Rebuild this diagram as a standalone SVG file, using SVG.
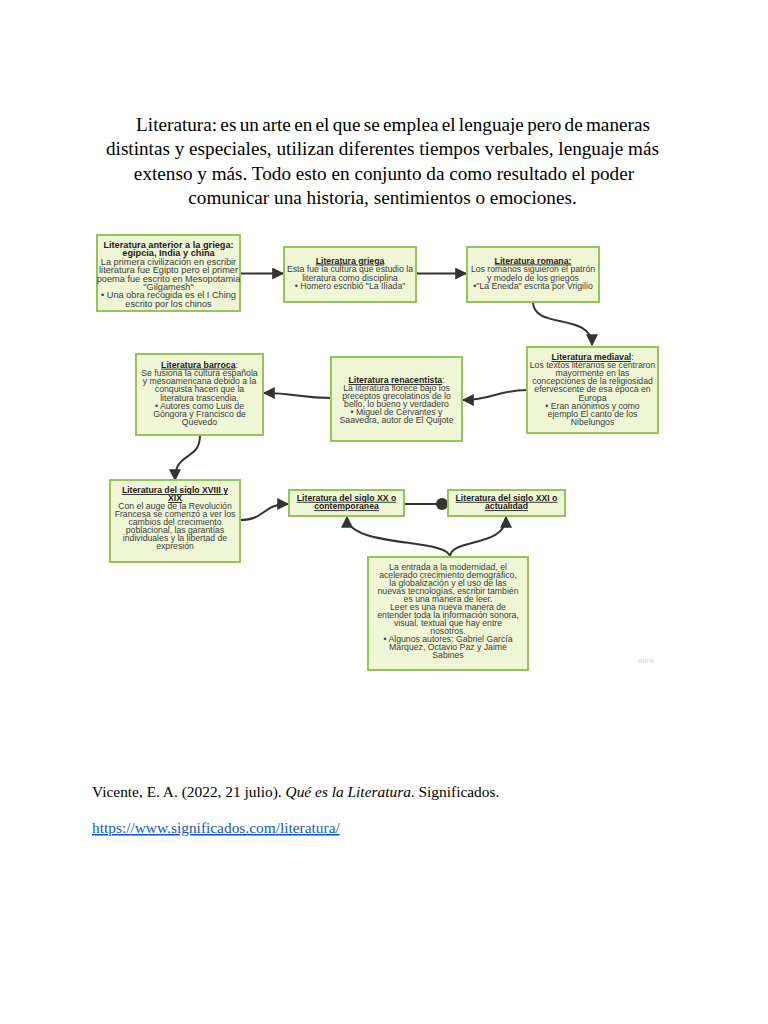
<svg xmlns="http://www.w3.org/2000/svg" width="768" height="1024" viewBox="0 0 768 1024">
<style>
.bg{fill:#ffffff}
.box{fill:#eff6d5;stroke:#93c55c;stroke-width:2}
.t{font-family:"Liberation Sans",Arial,sans-serif;font-size:8.7px;fill:#3a3a3a;text-anchor:middle}
.big .t{font-size:9.2px}
.h{font-weight:bold;fill:#1a1a1a}
.u{text-decoration:underline}
.title{font-family:"Liberation Serif","Times New Roman",serif;font-size:19.2px;fill:#000;text-anchor:middle}
.cite{font-family:"Liberation Serif","Times New Roman",serif;font-size:15.4px;fill:#000}
.link{fill:#1155cc;text-decoration:underline}
.c{fill:none;stroke:#333;stroke-width:2}
</style>
<defs>
<marker id="arr" viewBox="0 0 10 10" refX="9" refY="5" markerWidth="13" markerHeight="12" markerUnits="userSpaceOnUse" orient="auto">
<path d="M0,0 L10,5 L0,10 z" fill="#333"/>
</marker>
</defs>
<rect class="bg" x="0" y="0" width="768" height="1024"/>

<g id="heading">
<text class="title" x="393" y="130.5" word-spacing="-1.5">Literatura: es un arte en el que se emplea el lenguaje pero de maneras</text>
<text class="title" x="382.5" y="155">distintas y especiales, utilizan diferentes tiempos verbales, lenguaje más</text>
<text class="title" x="384" y="179.5">extenso y más. Todo esto en conjunto da como resultado el poder</text>
<text class="title" x="382.5" y="204">comunicar una historia, sentimientos o emociones.</text>
</g>

<g id="connectors">
<path class="c" d="M241,273.5 L283,273.5" marker-end="url(#arr)"/>
<path class="c" d="M417,273.5 L466,273.5" marker-end="url(#arr)"/>
<path class="c" d="M533,302 C533,330 592,312 592,345" marker-end="url(#arr)"/>
<path class="c" d="M527,390 C498,390 492,400 463,400" marker-end="url(#arr)"/>
<path class="c" d="M331,398 C300,398 295,393 264,393" marker-end="url(#arr)"/>
<path class="c" d="M200,435 C200,462 175,450 175,480" marker-end="url(#arr)"/>
<path class="c" d="M240,520 C266,520 262,504 288,504" marker-end="url(#arr)"/>
<path class="c" d="M404,504 L442,504"/>
<circle cx="442" cy="504" r="6" fill="#333"/>
<path class="c" d="M450,557 C450,538 347,548 347,517" marker-end="url(#arr)"/>
<path class="c" d="M450,557 C450,538 506,548 506,517" marker-end="url(#arr)"/>
</g>

<g id="n-anterior" class="big">
<rect class="box" x="97" y="235" width="143" height="76"/>
<text class="t h" x="168.5" y="248">Literatura anterior a la griega:</text>
<text class="t h" x="168.5" y="256.4">egipcia, India y china</text>
<text class="t" x="168.5" y="264.8">La primera civilización en escribir</text>
<text class="t" x="168.5" y="273.2">literatura fue Egipto pero el primer</text>
<text class="t" x="168.5" y="281.6">poema fue escrito en Mesopotamia</text>
<text class="t" x="168.5" y="290">"Gilgamesh"</text>
<text class="t" x="168.5" y="298.4">• Una obra recogida es el I Ching</text>
<text class="t" x="168.5" y="306.8">escrito por los chinos</text>
</g>

<g id="n-griega">
<rect class="box" x="284" y="247" width="132" height="55"/>
<text class="t h u" x="350" y="263.5">Literatura griega</text>
<text class="t" x="350" y="272">Esta fue la cultura que estudio la</text>
<text class="t" x="350" y="280.5">literatura como disciplina</text>
<text class="t" x="350" y="289">• Homero escribió "La Ilíada"</text>
</g>

<g id="n-romana">
<rect class="box" x="467" y="247" width="132" height="55"/>
<text class="t h u" x="533" y="263.5">Literatura romana:</text>
<text class="t" x="533" y="272">Los romanos siguieron el patrón</text>
<text class="t" x="533" y="280.5">y modelo de los griegos</text>
<text class="t" x="533" y="289">•"La Eneida" escrita por Vrigilio</text>
</g>

<g id="n-medieval">
<rect class="box" x="527" y="347" width="131" height="86"/>
<text class="t" x="592.5" y="360"><tspan class="h u">Literatura mediaval</tspan>:</text>
<text class="t" x="592.5" y="368.1">Los textos literarios se centraron</text>
<text class="t" x="592.5" y="376.2">mayormente en las</text>
<text class="t" x="592.5" y="384.3">concepciones de la religiosidad</text>
<text class="t" x="592.5" y="392.4">efervescente de esa época en</text>
<text class="t" x="592.5" y="400.5">Europa</text>
<text class="t" x="592.5" y="408.6">• Eran anónimos y como</text>
<text class="t" x="592.5" y="416.7">ejemplo El canto de los</text>
<text class="t" x="592.5" y="424.8">Nibelungos</text>
</g>

<g id="n-renacentista">
<rect class="box" x="331" y="357" width="131" height="84"/>
<text class="t" x="396.5" y="383"><tspan class="h u">Literatura renacentista</tspan>:</text>
<text class="t" x="396.5" y="391">La literatura florece bajo los</text>
<text class="t" x="396.5" y="399">preceptos grecolatinos de lo</text>
<text class="t" x="396.5" y="407">bello, lo bueno y verdadero</text>
<text class="t" x="396.5" y="415">• Miguel de Cervantes y</text>
<text class="t" x="396.5" y="423">Saavedra, autor de El Quijote</text>
</g>

<g id="n-barroca">
<rect class="box" x="136" y="354" width="127" height="81"/>
<text class="t" x="199.5" y="367.7"><tspan class="h u">Literatura barroca</tspan>:</text>
<text class="t" x="199.5" y="375.9">Se fusiona la cultura española</text>
<text class="t" x="199.5" y="384.1">y mesoamericana debido a la</text>
<text class="t" x="199.5" y="392.3">conquista hacen que la</text>
<text class="t" x="199.5" y="400.5">literatura trascendia.</text>
<text class="t" x="199.5" y="408.7">• Autores como Luis de</text>
<text class="t" x="199.5" y="416.9">Góngora y Francisco de</text>
<text class="t" x="199.5" y="425.1">Quevedo</text>
</g>

<g id="n-xviii">
<rect class="box" x="110" y="480" width="130" height="82"/>
<text class="t h u" x="175" y="493">Literatura del siglo XVIII y</text>
<text class="t h u" x="175" y="501">XIX</text>
<text class="t" x="175" y="509">Con el auge de la Revolución</text>
<text class="t" x="175" y="517">Francesa se comenzó a ver los</text>
<text class="t" x="175" y="525">cambios del crecimiento</text>
<text class="t" x="175" y="533">poblacional, las garantías</text>
<text class="t" x="175" y="541">individuales y la libertad de</text>
<text class="t" x="175" y="549">expresión</text>
</g>

<g id="n-xx">
<rect class="box" x="289" y="490" width="115" height="26"/>
<text class="t h u" x="346.5" y="500.8">Literatura del siglo XX o</text>
<text class="t h u" x="346.5" y="509.2">contemporanea</text>
</g>

<g id="n-xxi">
<rect class="box" x="448" y="490" width="117" height="26"/>
<text class="t h u" x="506.5" y="500.8">Literatura del siglo XXI o</text>
<text class="t h u" x="506.5" y="509.2">actualidad</text>
</g>

<g id="n-actual">
<rect class="box" x="368" y="557" width="160" height="113"/>
<text class="t" x="448" y="570">La entrada a la modernidad, el</text>
<text class="t" x="448" y="578">acelerado crecimiento demográfico,</text>
<text class="t" x="448" y="586">la globalización y el uso de las</text>
<text class="t" x="448" y="594">nuevas tecnologías, escribir también</text>
<text class="t" x="448" y="602">es una manera de leer.</text>
<text class="t" x="448" y="610">Leer es una nueva manera de</text>
<text class="t" x="448" y="618">entender toda la información sonora,</text>
<text class="t" x="448" y="626">visual, textual que hay entre</text>
<text class="t" x="448" y="634">nosotros.</text>
<text class="t" x="448" y="642">• Algunos autores: Gabriel García</text>
<text class="t" x="448" y="650">Marquez, Octavio Paz y Jaime</text>
<text class="t" x="448" y="658">Sabines</text>
</g>

<text x="646" y="663" font-family="Liberation Sans,Arial,sans-serif" font-size="7" fill="#c8c8c8" text-anchor="middle" letter-spacing="0.5">miro</text>

<g id="citation">
<text class="cite" x="92" y="797">Vicente, E. A. (2022, 21 julio). <tspan font-style="italic">Qué es la Literatura</tspan>. Significados.</text>
<text class="cite link" x="92" y="833">https://www.significados.com/literatura/</text>
</g>
</svg>
